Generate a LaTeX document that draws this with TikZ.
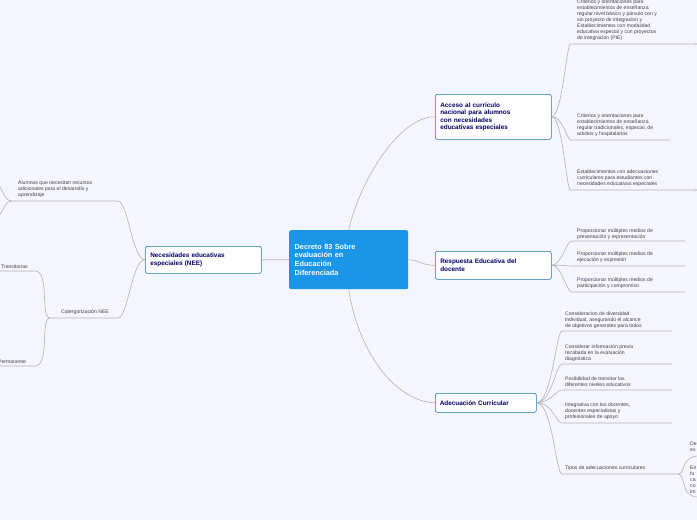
\documentclass[tikz,border=0pt]{standalone}
\usepackage{fontspec}
\setmainfont{Liberation Sans}
\definecolor{cblue}{HTML}{1B95E6}
\begin{document}
\begin{tikzpicture}[x=1pt,y=-1pt,
  conn/.style={draw=black!30,line width=0.6pt},
  lf/.style={anchor=south west,font=\fontsize{5.1}{6.1}\selectfont,text=black!75,align=left,inner sep=1pt},
  br/.style={draw=cblue!80!black,fill=white,rounded corners=2pt,line width=0.6pt,font=\bfseries\fontsize{6.4}{7.4}\selectfont,text=blue!40!black,align=left,inner sep=3pt,anchor=north west}]
\fill[blue!4!white] (0,0) rectangle (697,520);
\useasboundingbox (0,0) rectangle (697,520);
% center
\node[fill=cblue,rounded corners=2pt,text=white,font=\bfseries\fontsize{7.3}{8.8}\selectfont,align=left,minimum width=119pt,minimum height=59pt,text width=108pt,anchor=north west] (c) at (289,230) {Decreto 83 Sobre\\evaluación en\\Educación\\Diferenciada};
% branches
\node[br,minimum width=116pt,minimum height=45pt,text width=106pt] (a) at (435,94) {Acceso al currículo\\nacional para alumnos\\con necesidades\\educativas especiales};
\node[br,minimum width=116pt,minimum height=28pt,text width=106pt] (r) at (435,251) {Respuesta Educativa del\\docente};
\node[br,minimum width=101pt,minimum height=19pt,text width=92pt] (d) at (435,393) {Adecuación Curricular};
\node[br,minimum width=116pt,minimum height=27pt,text width=106pt] (n) at (145,246) {Necesidades educativas\\especiales (NEE)};
\draw[conn] (c.north) .. controls (360,180) and (400,116) .. (a.west);
\draw[conn] (c.east) .. controls (420,260) and (420,265) .. (r.west);
\draw[conn] (c.south) .. controls (360,360) and (400,402) .. (d.west);
\draw[conn] (c.west) -- (n.east);
% Acceso leaves
\coordinate (a1) at (570,44); \coordinate (a2) at (570,140); \coordinate (a3) at (570,190);
\node[lf] (ta1) at (576,42) {Criterios y orientaciones para\\establecimientos de enseñanza\\regular nivel básico y párvulo con y\\sin proyecto de integracion  y\\Establecimientos con modalidad\\educativa especial y con proyectos\\de integracion (PIE)};
\node[lf] (ta2) at (576,138) {Criterios y orientaciones para\\establecimientos de enseñanza\\regular tradicionales, especial, de\\adultos y hospitalarios};
\node[lf] (ta3) at (576,188) {Establecimientos con adecuaciones\\curriculares para estudiantes con\\necesidades educativas especiales};
\draw[conn] (a.east) .. controls (562,116) and (566,50) .. (a1) -- (695,44) .. controls (700,44) .. (700,30);
\draw[conn] (695,44) .. controls (700,44) .. (700,60);
\draw[conn] (a.east) .. controls (562,116) and (566,136) .. (a2) -- (670,140);
\draw[conn] (a.east) .. controls (562,116) and (566,184) .. (a3) -- (695,190) .. controls (700,190) .. (700,180);
\draw[conn] (695,190) .. controls (700,190) .. (700,200);
% Respuesta leaves
\node[lf] (tr1) at (576,241) {Proporcionar múltiples medios de\\presentación y representación};
\node[lf] (tr2) at (576,264) {Proporcionar múltiples medios de\\ejecución y expresión};
\node[lf] (tr3) at (576,290) {Proporcionar múltiples medios de\\participación y compromiso};
\foreach \y in {241,266,292}{\draw[conn] (r.east) .. controls (562,265) and (566,\y) .. (572,\y) -- (685,\y);}
% Adecuacion leaves
\node[lf] (td1) at (564,330) {Consideracion de diversidad\\individual, asegurando el alcance\\de objetivos generales para todos};
\node[lf] (td2) at (564,363) {Considerar información previa\\recabada en la evaluación\\diagnóstica};
\node[lf] (td3) at (564,388) {Posibilidad de transitar los\\diferentes niveles educativos};
\node[lf] (td4) at (564,421) {Integrativa con los docentes,\\docentes especialistas y\\profesionales de apoyo};
\node[lf] (td5) at (564,472) {Tipos de adecuaciones curriculares};
\foreach \y in {331,364,390,423,474}{\draw[conn] (d.east) .. controls (552,402) and (556,\y) .. (562,\y) -- (672,\y);}
\draw[conn] (672,474) -- (678,474) .. controls (686,474) and (680,458) .. (697,456);
\draw[conn] (678,474) .. controls (686,474) and (680,496) .. (697,497);
\node[lf] (te1) at (689,453) {De\\ex};
\node[lf] (te2) at (689,495) {En\\fu\\ca\\co\\im};
% NEE leaves
\node[lf] (tn1) at (17,199) {Alumnos que necesitan recursos\\adicionales para el desarrollo y\\aprendizaje};
\node[lf] (tn2) at (60,316) {Catergorización NEE};
\draw[conn] (n.west) .. controls (132,259) and (128,201) .. (118,201) -- (12,201);
\draw[conn] (12,201) .. controls (4,201) and (4,190) .. (-2,185);
\draw[conn] (12,201) .. controls (4,201) and (4,212) .. (-2,216);
\draw[conn] (n.west) .. controls (132,259) and (128,318) .. (118,318) -- (50,318);
\draw[conn] (50,318) .. controls (40,318) and (50,271) .. (35,271) -- (0,271);
\draw[conn] (50,318) .. controls (40,318) and (50,366) .. (35,366) -- (0,366);
\node[lf] (tt) at (0,270) {Transitorias};
\node[lf] (tp) at (-3,365) {Permanente};
\end{tikzpicture}
\end{document}
